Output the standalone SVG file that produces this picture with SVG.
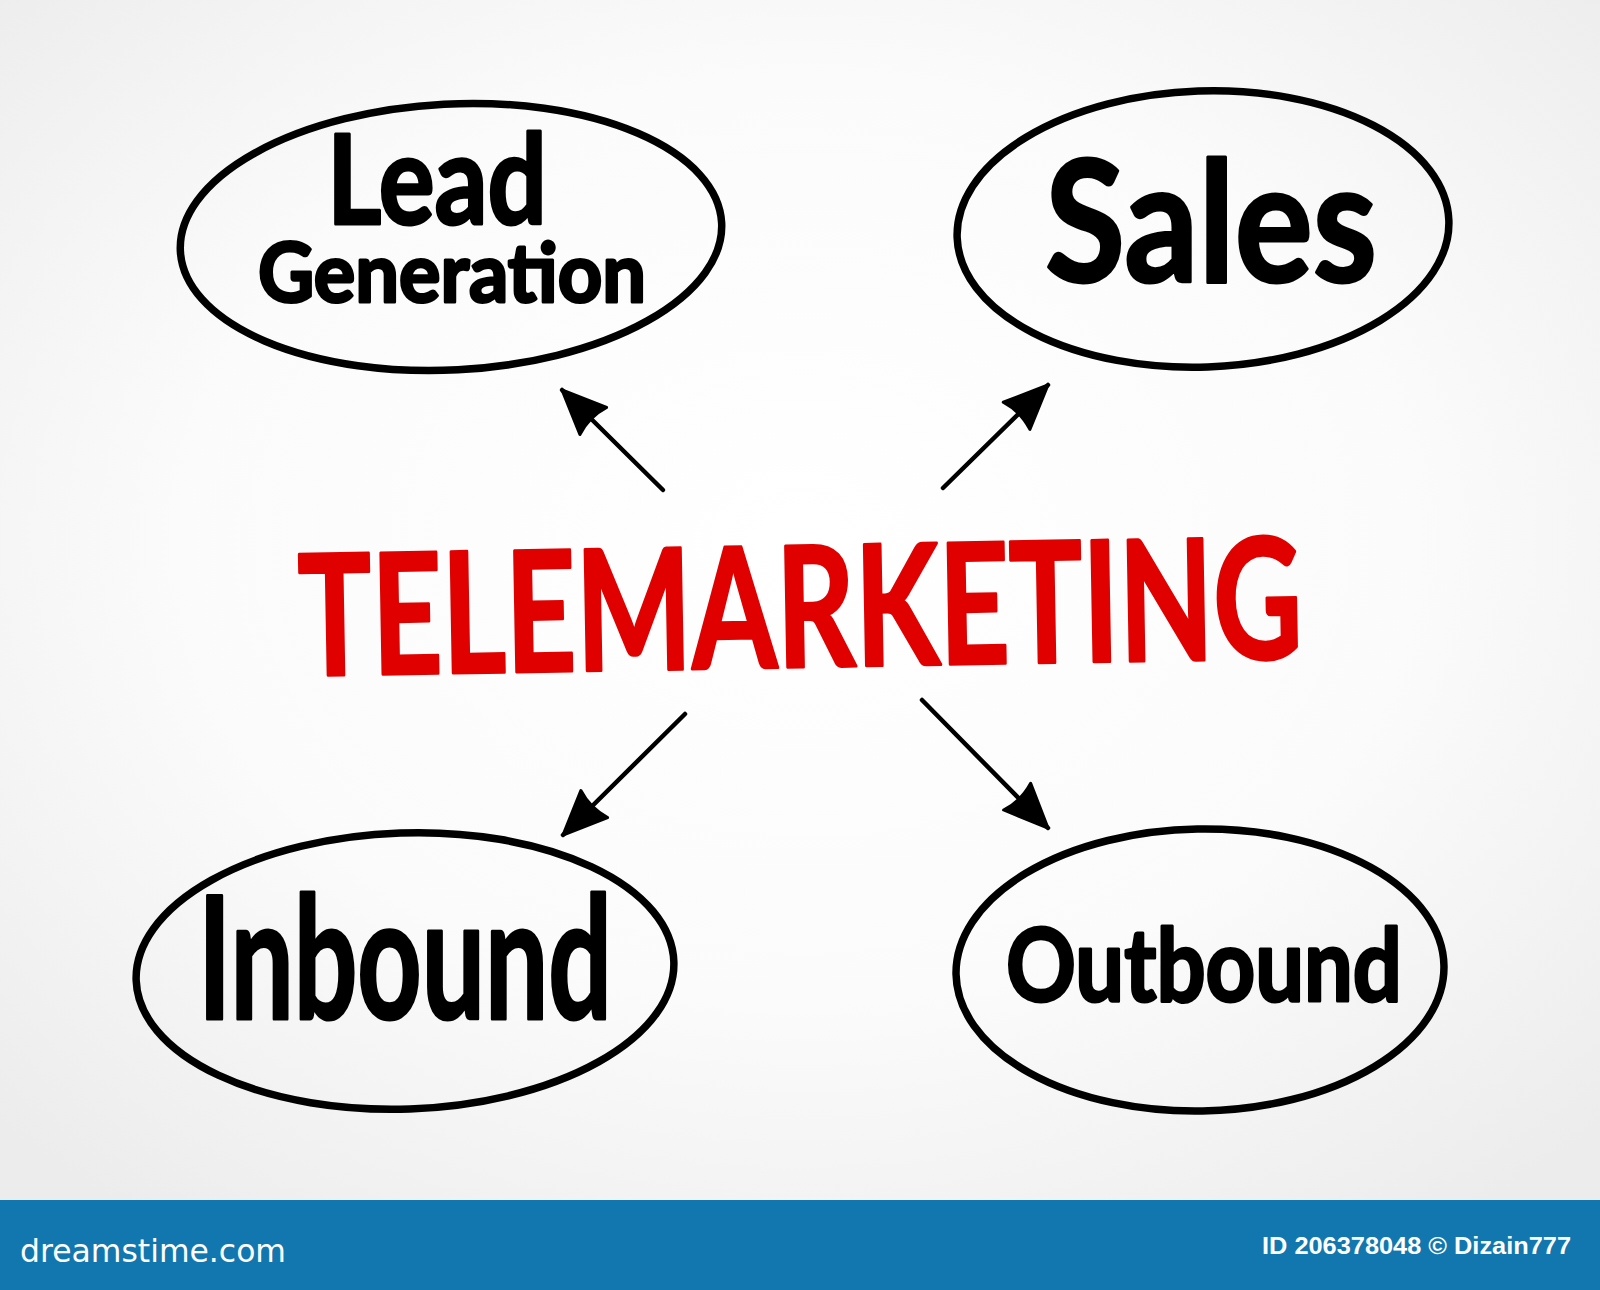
<svg xmlns="http://www.w3.org/2000/svg" width="1600" height="1290" viewBox="0 0 1600 1290">
<defs>
<radialGradient id="bg" cx="50%" cy="45%" r="70%">
<stop offset="0" stop-color="#ffffff"/>
<stop offset="0.55" stop-color="#fbfbfb"/>
<stop offset="1" stop-color="#ececec"/>
</radialGradient>
<marker id="head" viewBox="-2 -22 52 44" markerWidth="52" markerHeight="44" refX="44" refY="0" orient="auto" markerUnits="userSpaceOnUse">
<path d="M0,-19 L44,0 L0,19 Q6,0 0,-19 Z" fill="#000" stroke="#000" stroke-width="3" stroke-linejoin="round"/>
</marker>
<style>
.oval{fill:none;stroke:#000;stroke-width:7.5;stroke-linecap:round}
.lbl{font-family:Lato,"Liberation Sans",sans-serif;font-weight:bold;fill:#000;stroke:#000;stroke-width:3;stroke-linejoin:round}
.conn{stroke:#000;stroke-width:4.5;stroke-linecap:round;fill:none}
.title{font-family:Lato,"Liberation Sans",sans-serif;font-weight:bold;fill:#e00000;stroke:#e00000;stroke-width:3;stroke-linejoin:round}
</style>
</defs>
<rect x="0" y="0" width="1600" height="1200" fill="url(#bg)"/>

<g id="node-lead-generation">
<ellipse class="oval" cx="451" cy="237" rx="271" ry="133" transform="rotate(-3 451 237)"/>
<text class="lbl" x="327" y="224" font-size="124" textLength="220" lengthAdjust="spacingAndGlyphs">Lead</text>
<text class="lbl" x="258" y="302" font-size="82" textLength="388" lengthAdjust="spacingAndGlyphs">Generation</text>
</g>

<g id="node-sales">
<ellipse class="oval" cx="1203" cy="229" rx="246" ry="138" transform="rotate(-2 1203 229)"/>
<text class="lbl" x="1045" y="282" font-size="168" textLength="332" lengthAdjust="spacingAndGlyphs">Sales</text>
</g>

<g id="node-telemarketing">
<text class="title" x="298" y="667" font-size="168" textLength="1004" lengthAdjust="spacingAndGlyphs" transform="rotate(-1 800 600)">TELEMARKETING</text>
</g>

<g id="node-inbound">
<ellipse class="oval" cx="405" cy="971" rx="269" ry="138" transform="rotate(-2 405 971)"/>
<text class="lbl" x="198" y="1019" font-size="170" textLength="414" lengthAdjust="spacingAndGlyphs">Inbound</text>
</g>

<g id="node-outbound">
<ellipse class="oval" cx="1200" cy="970" rx="244" ry="141" transform="rotate(-1 1200 970)"/>
<text class="lbl" x="1006" y="1001" font-size="102" textLength="396" lengthAdjust="spacingAndGlyphs">Outbound</text>
</g>

<g id="connectors">
<line class="conn" x1="663" y1="490" x2="562" y2="390" marker-end="url(#head)"/>
<line class="conn" x1="943" y1="488" x2="1048" y2="385" marker-end="url(#head)"/>
<line class="conn" x1="685" y1="714" x2="563" y2="835" marker-end="url(#head)"/>
<line class="conn" x1="922" y1="700" x2="1048" y2="828" marker-end="url(#head)"/>
</g>

<g id="footer">
<rect x="0" y="1200" width="1600" height="90" fill="#1277ae"/>
<text x="20" y="1262" font-family="'DejaVu Sans',sans-serif" font-size="32" fill="#fff" textLength="266" lengthAdjust="spacingAndGlyphs">dreamstime.com</text>
<text x="1571" y="1254" text-anchor="end" font-family="'Liberation Sans',sans-serif" font-weight="bold" font-size="23" fill="#fff" textLength="309" lengthAdjust="spacingAndGlyphs">ID 206378048 © Dizain777</text>
</g>
</svg>
